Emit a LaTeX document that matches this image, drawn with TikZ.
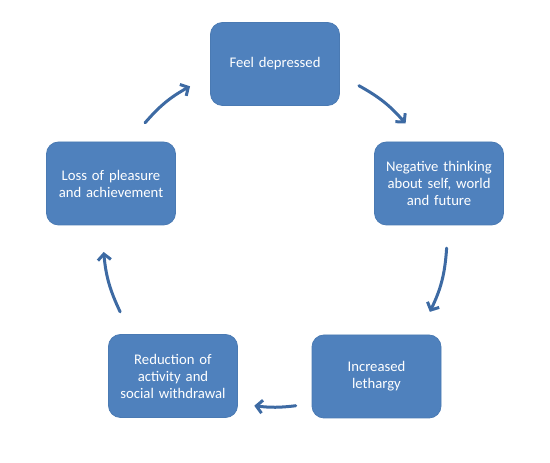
\documentclass[tikz,border=0pt]{standalone}
\usepackage{fontspec}
\setmainfont{Carlito}
\usetikzlibrary{arrows.meta}
\definecolor{boxblue}{HTML}{4F81BD}
\definecolor{boxedge}{HTML}{4A7AB3}
\definecolor{arrblue}{HTML}{3D6AA3}
\tikzset{
  stage/.style={draw=boxedge, line width=0.8pt, fill=boxblue, rounded corners=12pt,
    minimum width=129pt, minimum height=83pt, text width=124pt, align=center,
    text=white, font=\fontsize{14.7pt}{17pt}\selectfont, inner sep=0pt},
  cyc/.style={draw=arrblue, line width=3pt, line cap=round,
    -{Straight Barb[length=6pt,width=13pt,line width=3pt]}}
}
\begin{document}
\begin{tikzpicture}[x=1pt,y=1pt]
\useasboundingbox (0,0) rectangle (550,463);
\node[stage] (feel) at (275,399) {Feel depressed};
\node[stage] (neg) at (439,279.5) {Negative thinking\\about self, world\\and future};
\node[stage] (inc) at (376.5,86.5) {Increased\\lethargy};
\node[stage] (red) at (173,87) {Reduction of\\activity and\\social withdrawal};
\node[stage] (loss) at (111,279.5) {Loss of pleasure\\and achievement};
\coordinate (ctr) at (275,226);
\coordinate (a1s) at ([shift={(61:173)}]ctr);
\coordinate (a1e) at ([shift={(41:173)}]ctr);
\coordinate (a2s) at ([shift={(-3.7:172)}]ctr);
\coordinate (a2e) at ([shift={(-25.8:172)}]ctr);
\coordinate (a3s) at ([shift={(-83:170)}]ctr);
\coordinate (a3e) at ([shift={(-97:170)}]ctr);
\coordinate (a4s) at ([shift={(205.8:172)}]ctr);
\coordinate (a4e) at ([shift={(185:172)}]ctr);
\coordinate (a5s) at ([shift={(138.7:173)}]ctr);
\coordinate (a5e) at ([shift={(119.4:173)}]ctr);
\draw[cyc] (a1s) to[bend left=10] (a1e);
\draw[cyc] (a2s) to[bend left=11] (a2e);
\draw[cyc] (a3s) to[bend left=7] (a3e);
\draw[cyc] (a4s) to[bend left=10] (a4e);
\draw[cyc] (a5s) to[bend left=10] (a5e);
\end{tikzpicture}
\end{document}
